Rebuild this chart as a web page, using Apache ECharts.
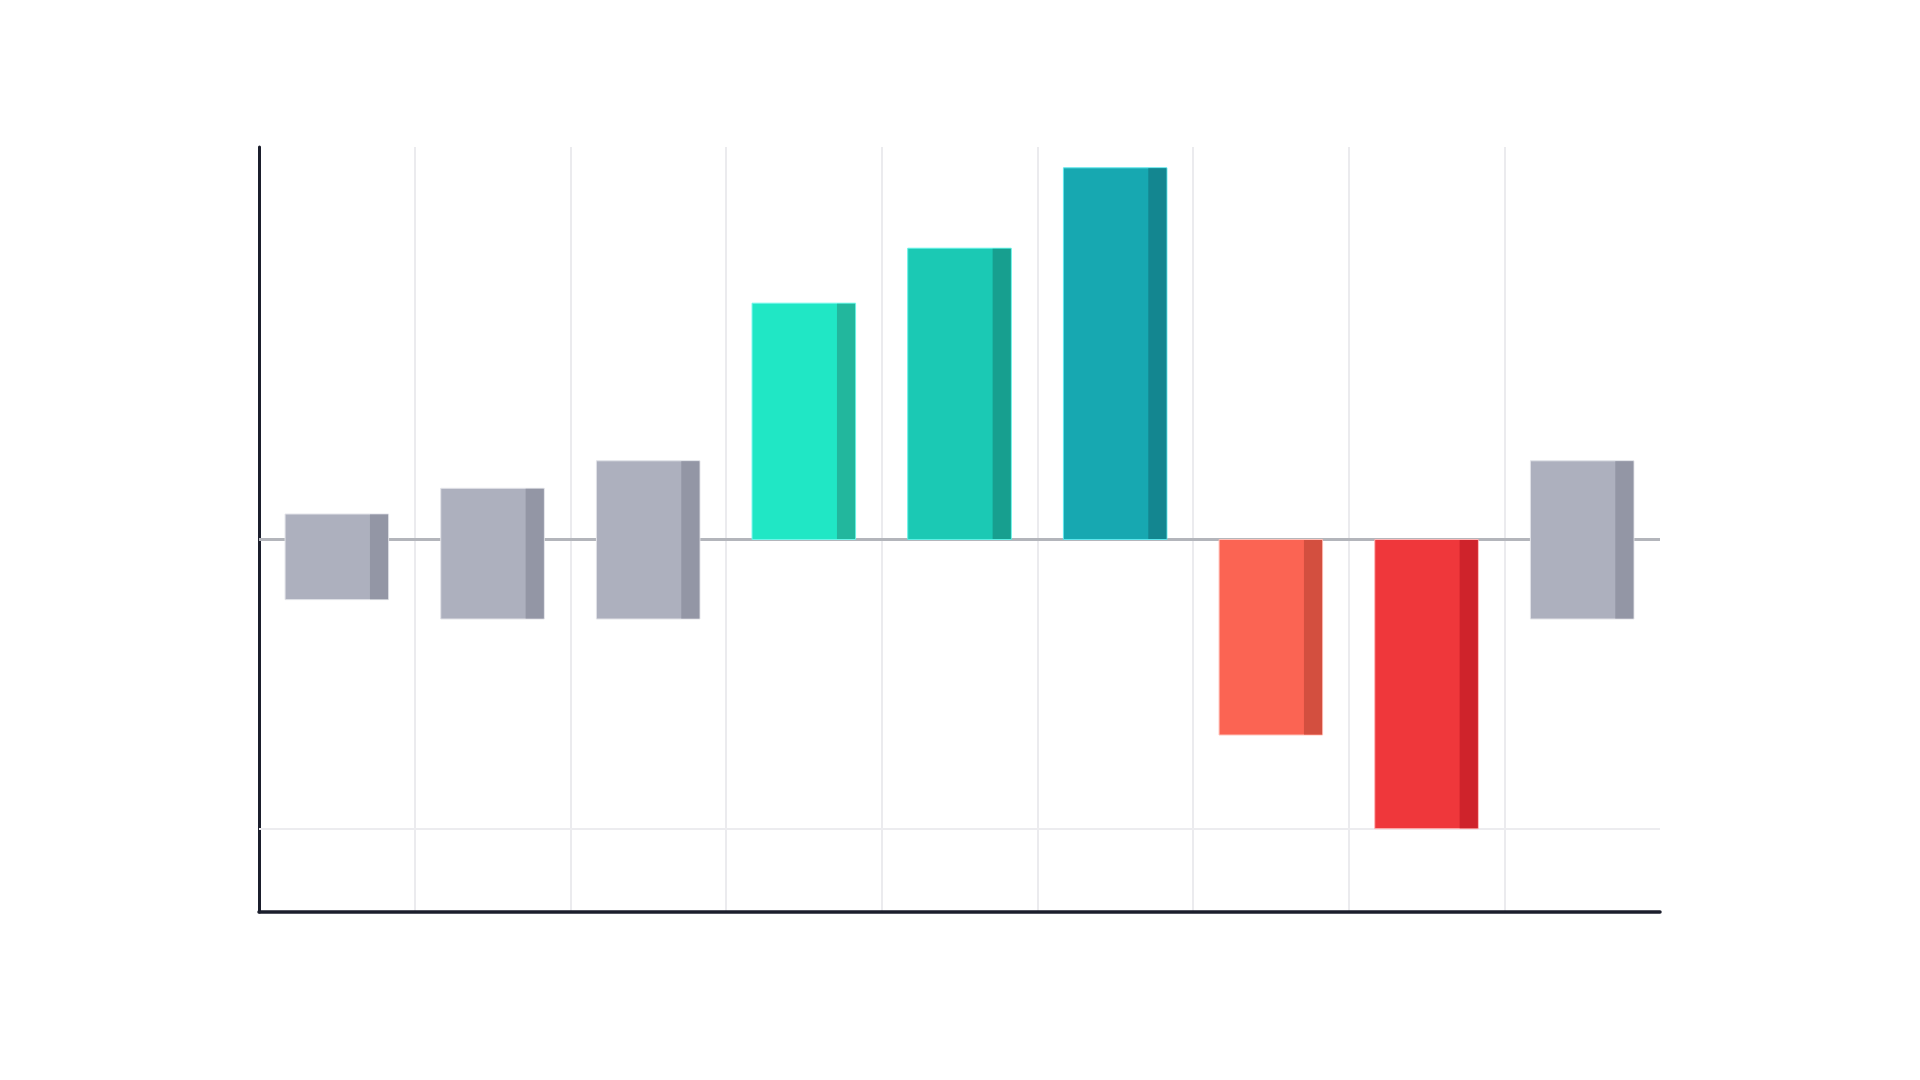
<!DOCTYPE html>
<html>
<head>
<meta charset="utf-8">
<title>bar</title>
<script src="https://cdn.jsdelivr.net/npm/echarts@6/dist/echarts.min.js"></script>
<style>
    html, body {margin:0; padding:0; background:#fff;}
    #main {width:1920px; height:1080px;}
</style>
</head>
<body>
<div id="main"></div>
<script>
var categories = ['1', '2', '3', '4', '5', '6', '7', '8', '9'];
// bottom and top of each bar
var lowValues = [-2.08, -2.75, -2.75, 0, 0, 0, -6.76, -10, -2.75];
var highValues = [0.88, 1.77, 2.72, 8.17, 10.07, 12.85, 0, 0, 2.72];
// front face / side face / edge colour per bar
var faceColors = ['#adb0be', '#adb0be', '#adb0be', '#20e7c5', '#1bc9b4', '#17a8b1', '#fb6453', '#ef373b', '#adb0be'];
var sideColors = ['#9396a5', '#9396a5', '#9396a5', '#22b79d', '#179f8f', '#138690', '#d34f3f', '#cf232b', '#9396a5'];
var edgeColors = ['#e2e3e8', '#e2e3e8', '#e2e3e8', '#6ff7ea', '#5ff2e6', '#5fe9ef', '#ffc2ba', '#ffb8b8', '#e2e3e8'];
var refLines = [0, -10];

(function () {
    var myEchart = echarts.init(document.getElementById('main'));

    var barData = [];
    for (var i = 0; i < categories.length; i++) {
        barData.push([i, lowValues[i], highValues[i]]);
    }

    function renderBar(params, api) {
        var idx = api.value(0);
        var top = api.coord([idx, api.value(2)]);
        var bottom = api.coord([idx, api.value(1)]);
        var w = api.size([1, 0])[0] * 0.665;
        var x = top[0] - w / 2;
        var h = bottom[1] - top[1];
        var side = w * 0.18;
        return {
            type: 'group',
            children: [
                {
                    type: 'rect',
                    shape: {x: x, y: top[1], width: w, height: h},
                    style: {fill: faceColors[idx], stroke: edgeColors[idx], lineWidth: 1}
                },
                {
                    type: 'rect',
                    shape: {x: x + w - side, y: top[1] + 0.5, width: side - 0.5, height: h - 1},
                    style: {fill: sideColors[idx]}
                }
            ]
        };
    }

    myEchart.setOption({
        animation: false,
        grid: {left: 259, right: 260, top: 147, bottom: 168},
        xAxis: {
            type: 'category',
            data: categories,
            axisLine: {show: true, onZero: false, lineStyle: {color: '#1b1e2c', width: 3.5}},
            axisTick: {show: false},
            axisLabel: {show: false},
            splitLine: {show: true, showMaxLine: false, lineStyle: {color: '#e4e5e8', width: 1.5}}
        },
        yAxis: {
            type: 'value',
            min: -12.88,
            max: 13.57,
            axisLine: {show: true, onZero: false, lineStyle: {color: '#1b1e2c', width: 3}},
            axisTick: {show: false},
            axisLabel: {show: false},
            splitLine: {show: false}
        },
        series: [
            {
                // empty series only carrying the reference lines, kept under the bars
                name: 'ref',
                type: 'line',
                z: 1,
                data: [],
                markLine: {
                    silent: true,
                    z: 1,
                    symbol: 'none',
                    label: {show: false},
                    data: [
                        {yAxis: refLines[0], lineStyle: {color: '#b3b5bb', width: 3, type: 'solid'}},
                        {yAxis: refLines[1], lineStyle: {color: '#ececef', width: 2, type: 'solid'}}
                    ]
                }
            },
            {
                name: 'bars',
                type: 'custom',
                z: 3,
                renderItem: renderBar,
                encode: {x: 0, y: [1, 2]},
                data: barData
            }
        ]
    });
})();
</script>
</body>
</html>
